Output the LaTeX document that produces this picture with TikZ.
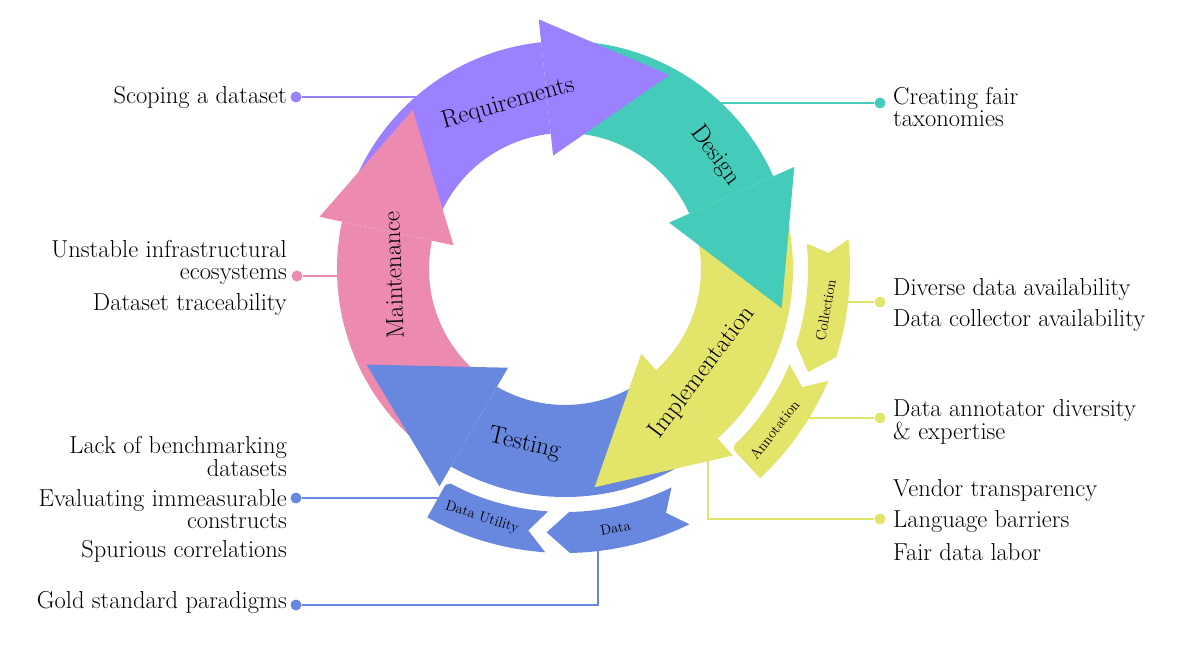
\documentclass[tikz,border=0pt]{standalone}
\usetikzlibrary{calc}
\definecolor{cReq}{RGB}{155,128,255}
\definecolor{cDes}{RGB}{69,203,185}
\definecolor{cImp}{RGB}{227,228,106}
\definecolor{cTes}{RGB}{104,136,224}
\definecolor{cMai}{RGB}{236,138,176}
\tikzset{
  legend/.style={inner sep=0pt,font=\fontsize{24.5}{22}\selectfont},
  phase/.style={inner sep=0pt,font=\fontsize{25}{25}\selectfont},
  sub/.style={inner sep=0pt,font=\fontsize{14.5}{15}\selectfont},
  dot/.style={circle,fill=#1,inner sep=0pt,minimum size=11pt},
  lead/.style={draw=#1,line width=1.5pt},
}
% ring body from angle #2 down to #3
\newcommand{\ringbody}[3]{\fill[#1] (#2:228) arc[start angle=#2,end angle=#3,radius=228]
  -- (#3:136) arc[start angle=#3,end angle=#2,radius=136] -- cycle;}
% head with base at angle #2
\newcommand{\ringhead}[2]{\fill[#1] (#2:251) -- ($(#2:182)+(#2-90:124)$) -- (#2:114) -- cycle;}
\begin{document}
\begin{tikzpicture}[x=1pt,y=1pt]
\useasboundingbox (0,0) rectangle (1204,648);

% leader lines (behind the cycle)
\node[dot=cReq] (dReq) at (296,551) {};
\coordinate (eReq) at (430,551);
\node[dot=cDes] (dDes) at (880,545) {};
\coordinate (eDes) at (715,545);
\node[dot=cMai] (dMai) at (297,372) {};
\coordinate (eMai) at (345,372);
\node[dot=cImp] (dCol) at (880,346) {};
\coordinate (eCol) at (845,346);
\node[dot=cImp] (dAnn) at (880,230) {};
\coordinate (eAnn) at (805,230);
\node[dot=cImp] (dImp) at (880,129) {};
\coordinate (eImp) at (708,190);
\node[dot=cTes] (dUti) at (296,150) {};
\coordinate (eUti) at (445,150);
\node[dot=cTes] (dDat) at (296,43) {};
\coordinate (eDat) at (598,100);
\draw[lead=cReq] (dReq) -- (eReq);
\draw[lead=cDes] (dDes) -- (eDes);
\draw[lead=cMai] (dMai) -- (eMai);
\draw[lead=cImp] (dCol) -- (eCol);
\draw[lead=cImp] (dAnn) -- (eAnn);
\draw[lead=cImp] (dImp) -| (eImp);
\draw[lead=cTes] (dUti) -- (eUti);
\draw[lead=cTes] (dDat) -| (eDat);

\begin{scope}[shift={(565,379)}]
  % bodies
  \ringbody{cMai}{233}{168}
  \ringbody{cReq}{165}{96}
  \ringbody{cDes}{93}{24}
  \ringbody{cImp}{21}{-48}
  \ringbody{cTes}{-51}{-120}
  % heads
  \ringhead{cReq}{96}
  \ringhead{cDes}{24}
  \ringhead{cImp}{-48}
  \ringhead{cTes}{-120}
  \ringhead{cMai}{168}

  % sub-phases
  \fill[cImp] (6:285) arc[start angle=6,end angle=-18,radius=285] -- (-23:264)
    -- (-18:243) arc[start angle=-18,end angle=6,radius=243] -- (3.5:264) -- cycle;
  \fill[cImp] (-23:286) arc[start angle=-23,end angle=-47,radius=286]
    [rounded corners=6pt] -- (-47:244) [sharp corners]
    arc[start angle=-47,end angle=-23,radius=244] -- (-26.5:265) -- cycle;
  \fill[cTes] (-64:284) arc[start angle=-64,end angle=-89,radius=284] -- (-94:264)
    -- (-89:243) arc[start angle=-89,end angle=-64,radius=243] -- (-67.5:264) -- cycle;
  \fill[cTes] (-94:284) arc[start angle=-94,end angle=-119,radius=284]
    [rounded corners=6pt] -- (-119:243) [sharp corners]
    arc[start angle=-119,end angle=-94,radius=243] -- (-98:264) -- cycle;

  % phase labels
  \node[phase,rotate=16] (tReq) at (109:175) {Requirements};
  \node[phase,rotate=-53] (tDes) at (37:188) {Design};
  \node[phase,rotate=53] (tImp) at (-37:172) {Implementation};
  \node[phase,rotate=-13] (tTes) at (257:180) {Testing};
  \node[phase,rotate=92] (tMai) at (182:172) {Maintenance};
  \node[sub,rotate=80] (tCol) at (-9:264) {Collection};
  \node[sub,rotate=52] (tAnn) at (-37.5:264) {Annotation};
  \node[sub,rotate=11] (tDat) at (-79:264) {Data};
  \node[sub,rotate=-18] (tUti) at (-108.5:262) {Data Utility};
\end{scope}

% legend texts
\node[legend,anchor=east] (lReq) at (287,551) {Scoping a dataset};
\node[legend,anchor=east,align=right] (lMai1) at (287,386) {Unstable infrastructural\\ecosystems};
\node[legend,anchor=east] (lMai2) at (287,344) {Dataset traceability};
\node[legend,anchor=east,align=right] (lTes1) at (287,192) {Lack of benchmarking\\datasets};
\node[legend,anchor=east,align=right] (lTes2) at (287,139) {Evaluating immeasurable\\constructs};
\node[legend,anchor=east] (lTes3) at (287,97) {Spurious correlations};
\node[legend,anchor=east] (lTes4) at (287,46) {Gold standard paradigms};
\node[legend,anchor=west,align=left] (lDes) at (893,541) {Creating fair\\taxonomies};
\node[legend,anchor=west] (lCol1) at (893,359) {Diverse data availability};
\node[legend,anchor=west] (lCol2) at (893,328) {Data collector availability};
\node[legend,anchor=west,align=left] (lAnn) at (893,226) {Data annotator diversity\\\& expertise};
\node[legend,anchor=west] (lImp1) at (893,158) {Vendor transparency};
\node[legend,anchor=west] (lImp2) at (893,127) {Language barriers};
\node[legend,anchor=west] (lImp3) at (893,96) {Fair data labor};
\end{tikzpicture}
\end{document}
